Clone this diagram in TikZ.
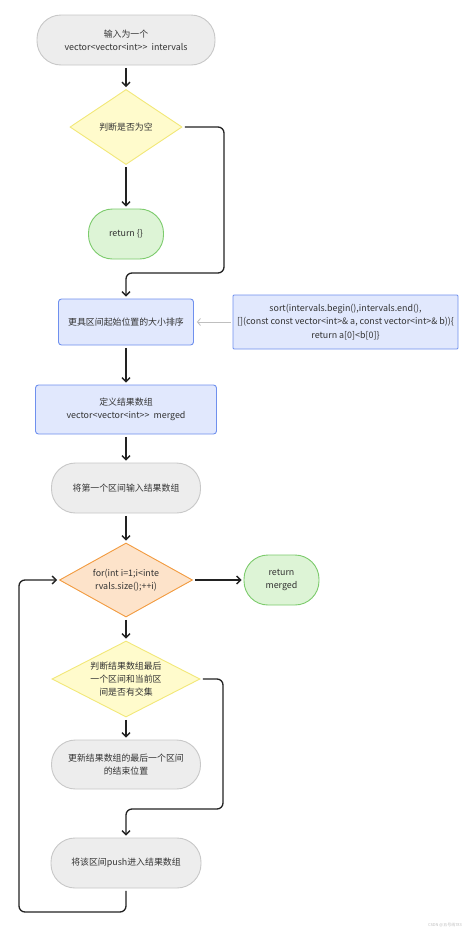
\documentclass[tikz,border=0pt]{standalone}
\usepackage{fontspec}
\setmainfont{Noto Sans CJK SC}
\usetikzlibrary{shapes.geometric,arrows.meta}
\definecolor{txt}{HTML}{333333}
\definecolor{grayfill}{HTML}{EDEDED}
\definecolor{graydraw}{HTML}{C8C8C8}
\definecolor{yelfill}{HTML}{FFFBCC}
\definecolor{yeldraw}{HTML}{F2E878}
\definecolor{grnfill}{HTML}{DDF4D6}
\definecolor{grndraw}{HTML}{7CCB6C}
\definecolor{blufill}{HTML}{E1E8FD}
\definecolor{bludraw}{HTML}{6F90EE}
\definecolor{orafill}{HTML}{FDE3CA}
\definecolor{oradraw}{HTML}{F29A3E}
\definecolor{arrcol}{HTML}{222222}
\tikzset{
  base/.style={font=\fontsize{8.9}{13.2}\selectfont, text=txt, align=center, line width=0.9pt, inner sep=0pt},
  stadium/.style={base, rectangle, rounded corners=24pt, fill=grayfill, draw=graydraw},
  greenst/.style={base, rectangle, rounded corners=24pt, fill=grnfill, draw=grndraw},
  bluebox/.style={base, rectangle, rounded corners=3pt, fill=blufill, draw=bludraw},
  ydiam/.style={base, diamond, aspect=2, fill=yelfill, draw=yeldraw},
  odiam/.style={base, diamond, aspect=2, fill=orafill, draw=oradraw},
  arr/.style={draw=arrcol, line width=1.3pt, -{Straight Barb[length=4pt,width=8pt]}, shorten <=2.5pt, shorten >=2pt, rounded corners=6pt},
  garr/.style={draw=black!25, line width=0.8pt, -{Straight Barb[length=3pt,width=7pt]}, shorten <=2pt, shorten >=3pt}
}
\begin{document}
\begin{tikzpicture}[x=1pt,y=-1pt]
\fill[white] (0,0) rectangle (474,932);
\useasboundingbox (0,0) rectangle (474,932);

\node[stadium, minimum width=178pt, minimum height=50pt] (start) at (126,40) {输入为一个\\vector<vector<int>{}>\ \ intervals};
\node[ydiam, minimum width=112pt, minimum height=75pt] (d1) at (126,127) {判断是否为空};
\node[greenst, minimum width=75pt, minimum height=50pt] (r1) at (126,234) {return \{\}};
\node[bluebox, minimum width=135pt, minimum height=46pt] (b1) at (126,322) {更具区间起始位置的大小排序};
\node[bluebox, rounded corners=1pt, minimum width=225pt, minimum height=54pt] (sortb) at (345.5,322) {sort(intervals.begin(),intervals.end(),\\{}[](const const vector<int>\& a, const vector<int>\& b))\{\\return a[0]<b[0]\}};
\node[bluebox, minimum width=181pt, minimum height=49pt] (b2) at (126,409.5) {定义结果数组\\vector<vector<int>{}>\ \ merged};
\node[stadium, minimum width=149pt, minimum height=50pt] (s2) at (126,488) {将第一个区间输入结果数组};
\node[odiam, minimum width=133pt, minimum height=74pt] (d3) at (126,580) {for(int i=1;i<inte\\rvals.size();++i)};
\node[greenst, minimum width=75pt, minimum height=50pt] (r2) at (281.5,580) {return\\merged};
\node[ydiam, minimum width=148pt, minimum height=76pt] (d4) at (126,679) {判断结果数组最后\\一个区间和当前区\\间是否有交集};
\node[stadium, minimum width=149pt, minimum height=49pt] (p1) at (126,764.5) {更新结果数组的最后一个区间\\的结束位置};
\node[stadium, minimum width=150pt, minimum height=50pt] (p2) at (126,863) {将该区间push进入结果数组};
\node[font=\fontsize{4}{5}\selectfont, text=black!25, inner sep=0pt] (wm) at (445,925) {CSDN @五号线783};

\coordinate (c1) at (224,273);
\coordinate (c2) at (223,809);
\coordinate (c3) at (19,912);

\draw[arr] (start) -- (d1);
\draw[arr] (d1) -- (r1);
\draw[arr] (d1.east) -| (c1) -| (b1.north);
\draw[garr] (sortb) -- (b1);
\draw[arr] (b1) -- (b2);
\draw[arr] (b2) -- (s2);
\draw[arr] (s2) -- (d3);
\draw[arr] (d3) -- (r2);
\draw[arr] (d3) -- (d4);
\draw[arr] (d4) -- (p1);
\draw[arr] (d4.east) -| (c2) -| (p2.north);
\draw[arr] (p2.south) |- (c3) |- (d3.west);
\end{tikzpicture}
\end{document}
